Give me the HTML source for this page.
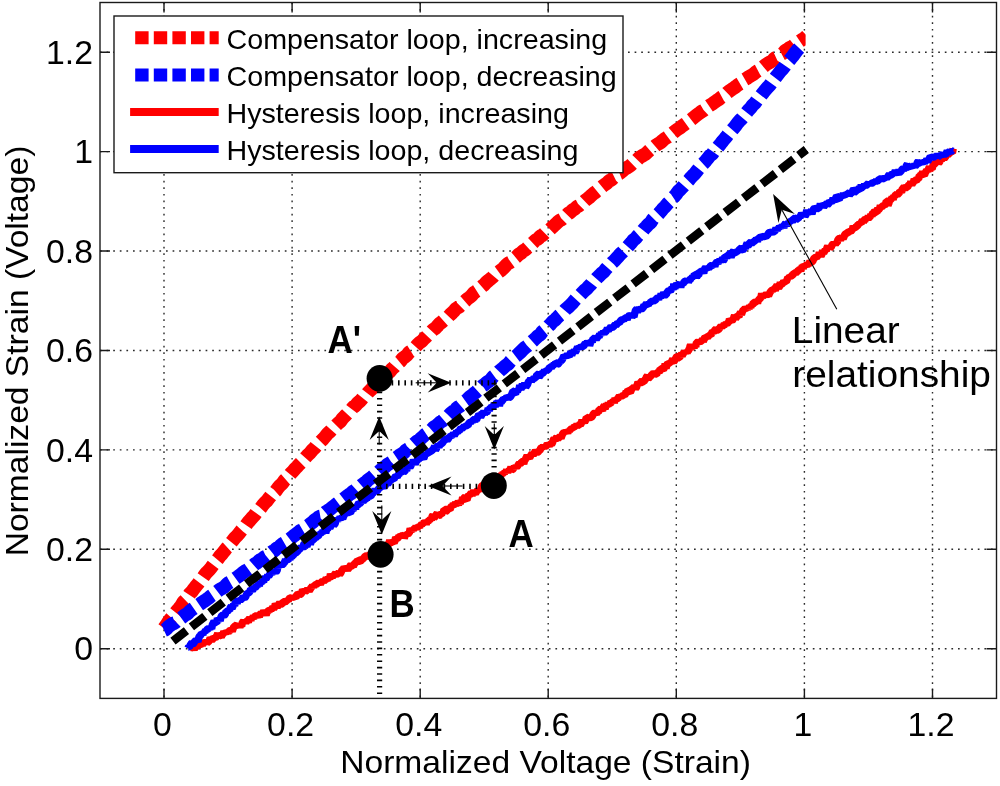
<!DOCTYPE html>
<html lang="en"><head><meta charset="utf-8"><title>Hysteresis and compensator loops</title>
<style>html,body{margin:0;padding:0;background:#fff}svg{display:block}text{font-family:"Liberation Sans",sans-serif;fill:#000}</style></head><body>
<svg width="1000" height="786" viewBox="0 0 1000 786">
<rect width="1000" height="786" fill="#fff"/>
<path d="M164.0,2.5 V698.4 M292.1,2.5 V698.4 M420.2,2.5 V698.4 M548.2,2.5 V698.4 M676.3,2.5 V698.4 M804.4,2.5 V698.4 M932.5,2.5 V698.4 M100.0,648.7 H996.5 M100.0,549.3 H996.5 M100.0,449.9 H996.5 M100.0,350.5 H996.5 M100.0,251.0 H996.5 M100.0,151.6 H996.5 M100.0,52.2 H996.5" fill="none" stroke="#2a2a2a" stroke-width="1.4" stroke-dasharray="1.7 4.9"/>
<clipPath id="c"><rect x="100.0" y="2.5" width="896.5" height="695.9"/></clipPath>
<g clip-path="url(#c)" fill="none" stroke-linejoin="bevel">
<clipPath id="c2"><rect x="100.0" y="2.5" width="705.6" height="695.9"/></clipPath>
<path clip-path="url(#c2)" d="M164.0,628.3 L166.2,625.2 L168.3,621.8 L170.5,618.9 L172.6,616.5 L174.8,613.6 L176.9,610.9 L179.1,608.3 L181.2,605.7 L183.4,601.9 L185.5,599.9 L187.7,596.8 L189.8,593.6 L192.0,591.5 L194.1,588.6 L196.3,585.8 L198.4,583.2 L200.6,580.3 L202.7,577.8 L204.9,574.7 L207.0,572.2 L209.2,570.0 L211.3,567.4 L213.5,564.5 L215.6,561.8 L217.8,559.2 L219.9,556.1 L222.1,553.9 L224.2,551.2 L226.4,548.4 L228.5,546.5 L230.7,543.1 L232.8,540.5 L235.0,537.7 L237.1,535.8 L239.3,533.1 L241.4,530.3 L243.6,528.0 L245.7,525.7 L247.9,522.5 L250.0,520.3 L252.2,517.6 L254.3,515.5 L256.5,512.4 L258.6,510.3 L260.8,507.9 L262.9,505.0 L265.1,502.5 L267.2,500.6 L269.4,497.6 L271.5,494.9 L273.7,492.9 L275.8,491.0 L278.0,487.9 L280.1,485.4 L282.3,483.6 L284.4,480.4 L286.6,478.5 L288.7,476.1 L290.9,473.4 L293.0,471.3 L295.2,468.6 L297.3,466.6 L299.5,464.1 L301.7,461.9 L303.8,459.5 L306.0,457.0 L308.1,454.7 L310.3,452.7 L312.4,450.0 L314.6,448.0 L316.7,445.3 L318.9,443.2 L321.0,441.1 L323.2,439.0 L325.3,436.5 L327.5,433.8 L329.6,431.9 L331.8,429.4 L333.9,427.5 L336.1,425.3 L338.2,423.2 L340.4,421.4 L342.5,418.5 L344.7,416.3 L346.8,414.1 L349.0,411.7 L351.1,410.0 L353.3,407.0 L355.4,405.8 L357.6,403.1 L359.7,401.4 L361.9,398.9 L364.0,396.3 L366.2,395.0 L368.3,392.3 L370.5,390.2 L372.6,388.0 L374.8,385.9 L376.9,383.6 L379.1,381.6 L381.2,379.5 L383.4,377.2 L385.5,375.2 L387.7,373.3 L389.8,371.6 L392.0,368.9 L394.1,367.1 L396.3,364.5 L398.4,363.0 L400.6,361.2 L402.7,358.4 L404.9,356.9 L407.0,355.1 L409.2,352.3 L411.3,351.0 L413.5,348.1 L415.6,346.8 L417.8,344.4 L419.9,342.4 L422.1,341.0 L424.2,338.5 L426.4,336.6 L428.5,334.4 L430.7,332.3 L432.8,330.0 L435.0,328.6 L437.1,326.5 L439.3,323.9 L441.4,322.4 L443.6,320.4 L445.7,319.1 L447.9,317.1 L450.0,314.9 L452.2,312.9 L454.3,310.7 L456.5,308.1 L458.6,307.4 L460.8,305.2 L462.9,303.0 L465.1,301.1 L467.2,299.0 L469.4,297.5 L471.5,295.8 L473.7,293.0 L475.8,291.6 L478.0,290.2 L480.1,288.0 L482.3,286.1 L484.4,284.6 L486.6,282.1 L488.7,280.4 L490.9,278.7 L493.0,276.9 L495.2,274.3 L497.3,273.0 L499.5,271.4 L501.6,269.9 L503.8,267.8 L505.9,265.4 L508.1,263.3 L510.2,262.3 L512.4,260.7 L514.5,258.3 L516.7,256.5 L518.8,254.4 L521.0,253.1 L523.1,251.0 L525.3,249.8 L527.4,247.8 L529.6,245.8 L531.7,244.0 L533.9,241.9 L536.0,239.9 L538.2,238.9 L540.3,236.2 L542.5,235.2 L544.6,233.3 L546.8,231.1 L548.9,230.4 L551.1,228.3 L553.2,226.4 L555.4,224.3 L557.5,222.3 L559.7,220.5 L561.8,219.4 L564.0,217.2 L566.1,215.8 L568.3,213.5 L570.4,212.3 L572.6,210.1 L574.7,209.0 L576.9,206.8 L579.0,205.7 L581.2,203.5 L583.3,202.3 L585.5,200.2 L587.6,198.7 L589.8,197.0 L591.9,194.9 L594.1,193.1 L596.2,191.6 L598.4,189.8 L600.5,188.0 L602.7,186.2 L604.8,184.6 L607.0,183.1 L609.1,180.9 L611.3,180.0 L613.4,177.9 L615.6,176.8 L617.7,174.1 L619.9,173.2 L622.0,171.4 L624.2,169.4 L626.3,168.2 L628.5,166.8 L630.6,165.4 L632.8,163.3 L634.9,160.9 L637.1,159.9 L639.2,157.7 L641.4,156.4 L643.5,155.1 L645.7,153.8 L647.8,151.8 L650.0,149.9 L652.1,148.5 L654.3,146.8 L656.4,145.0 L658.6,143.7 L660.7,142.4 L662.9,140.4 L665.0,138.6 L667.2,137.4 L669.3,135.8 L671.5,134.2 L673.6,132.4 L675.8,130.7 L677.9,129.1 L680.1,127.9 L682.2,125.9 L684.4,124.5 L686.5,123.0 L688.7,121.7 L690.8,119.8 L693.0,118.1 L695.1,116.3 L697.3,114.6 L699.4,113.2 L701.6,111.5 L703.7,110.3 L705.9,108.2 L708.0,106.6 L710.2,105.1 L712.3,103.9 L714.5,102.2 L716.6,100.7 L718.8,99.4 L720.9,97.5 L723.1,96.3 L725.2,94.8 L727.4,92.6 L729.5,91.0 L731.7,89.4 L733.8,88.2 L736.0,86.5 L738.1,84.8 L740.3,83.5 L742.4,82.5 L744.6,79.6 L746.7,78.4 L748.9,76.8 L751.0,75.6 L753.2,74.4 L755.3,72.6 L757.5,71.0 L759.6,69.9 L761.8,68.1 L763.9,66.3 L766.1,64.5 L768.3,63.2 L770.4,62.0 L772.6,60.7 L774.7,58.2 L776.9,57.2 L779.0,55.5 L781.2,54.2 L783.3,53.1 L785.5,50.5 L787.6,49.4 L789.8,47.7 L791.9,46.8 L794.1,45.1 L796.2,43.1 L798.4,42.1 L800.5,40.7 L802.7,39.3 L804.8,37.9 L807.0,35.7" stroke="#ff0000" stroke-width="13.6" stroke-dasharray="15.8 6.7" stroke-dashoffset="2.9"/>
<path d="M164.0,630.3 L166.2,629.3 L168.3,626.7 L170.4,625.2 L172.5,623.7 L174.7,623.0 L176.8,620.9 L178.9,619.0 L181.0,618.1 L183.2,616.5 L185.3,614.8 L187.4,613.8 L189.5,611.6 L191.7,609.8 L193.8,608.3 L195.9,606.5 L198.0,605.4 L200.2,603.9 L202.3,602.4 L204.4,601.0 L206.5,599.6 L208.7,598.0 L210.8,596.2 L212.9,594.8 L215.0,593.1 L217.1,591.6 L219.3,589.9 L221.4,588.7 L223.5,587.6 L225.6,585.7 L227.8,583.3 L229.9,582.2 L232.0,581.0 L234.1,579.4 L236.3,577.8 L238.4,576.4 L240.5,574.7 L242.6,573.0 L244.8,571.3 L246.9,570.2 L249.0,568.7 L251.1,567.1 L253.3,565.5 L255.4,563.6 L257.5,562.6 L259.6,560.2 L261.8,559.2 L263.9,557.5 L266.0,556.5 L268.1,554.8 L270.3,553.3 L272.4,551.6 L274.5,550.7 L276.6,548.4 L278.8,547.5 L280.9,545.3 L283.0,543.6 L285.1,542.4 L287.3,540.8 L289.4,539.3 L291.5,537.7 L293.6,536.0 L295.8,534.3 L297.9,532.8 L300.0,531.0 L302.1,529.8 L304.3,528.5 L306.4,526.9 L308.5,525.5 L310.6,523.7 L312.8,522.2 L314.9,519.9 L317.0,518.7 L319.1,516.7 L321.3,516.3 L323.4,514.0 L325.5,512.2 L327.6,510.8 L329.7,509.5 L331.9,507.7 L334.0,506.1 L336.1,504.5 L338.2,502.9 L340.4,501.1 L342.5,499.7 L344.6,498.1 L346.7,496.5 L348.9,494.8 L351.0,493.5 L353.1,491.5 L355.2,490.2 L357.4,488.2 L359.5,487.0 L361.6,485.2 L363.7,483.6 L365.9,482.2 L368.0,480.0 L370.1,478.5 L372.2,477.0 L374.4,475.0 L376.5,473.8 L378.6,472.0 L380.7,470.0 L382.9,468.0 L385.0,467.0 L387.1,464.9 L389.2,463.6 L391.4,462.2 L393.5,460.2 L395.6,458.3 L397.7,456.9 L399.9,455.1 L402.0,453.9 L404.1,452.5 L406.2,450.1 L408.4,448.9 L410.5,446.8 L412.6,445.2 L414.7,443.3 L416.9,441.4 L419.0,440.4 L421.1,438.2 L423.2,436.5 L425.4,434.3 L427.5,432.9 L429.6,431.4 L431.7,429.6 L433.9,427.2 L436.0,426.2 L438.1,424.2 L440.2,422.3 L442.3,421.0 L444.5,419.1 L446.6,417.7 L448.7,415.6 L450.8,413.3 L453.0,411.6 L455.1,410.5 L457.2,407.7 L459.3,406.7 L461.5,404.8 L463.6,402.2 L465.7,400.7 L467.8,399.0 L470.0,396.7 L472.1,395.4 L474.2,393.4 L476.3,391.8 L478.5,389.8 L480.6,388.0 L482.7,385.7 L484.8,384.4 L487.0,382.4 L489.1,381.1 L491.2,379.1 L493.3,376.5 L495.5,374.9 L497.6,373.0 L499.7,370.8 L501.8,369.2 L504.0,367.2 L506.1,365.4 L508.2,364.0 L510.3,361.3 L512.5,359.1 L514.6,357.2 L516.7,355.6 L518.8,353.6 L521.0,351.6 L523.1,349.3 L525.2,347.5 L527.3,346.0 L529.5,343.9 L531.6,342.0 L533.7,340.1 L535.8,338.1 L538.0,336.0 L540.1,334.7 L542.2,331.8 L544.3,330.1 L546.5,328.3 L548.6,326.0 L550.7,324.1 L552.8,321.5 L554.9,320.1 L557.1,317.7 L559.2,315.6 L561.3,313.9 L563.4,312.0 L565.6,309.4 L567.7,307.6 L569.8,305.7 L571.9,303.7 L574.1,301.0 L576.2,298.7 L578.3,297.2 L580.4,294.8 L582.6,292.5 L584.7,290.4 L586.8,288.7 L588.9,286.3 L591.1,284.1 L593.2,281.4 L595.3,280.0 L597.4,277.6 L599.6,275.5 L601.7,273.4 L603.8,271.7 L605.9,269.1 L608.1,266.6 L610.2,265.0 L612.3,262.6 L614.4,260.7 L616.6,258.2 L618.7,256.0 L620.8,253.6 L622.9,251.7 L625.1,249.5 L627.2,247.3 L629.3,244.9 L631.4,242.6 L633.6,239.8 L635.7,238.4 L637.8,235.7 L639.9,233.8 L642.1,231.5 L644.2,228.8 L646.3,226.7 L648.4,224.4 L650.6,222.7 L652.7,219.2 L654.8,217.1 L656.9,215.6 L659.1,213.4 L661.2,210.9 L663.3,208.3 L665.4,206.3 L667.5,203.7 L669.7,201.6 L671.8,198.2 L673.9,196.8 L676.0,194.5 L678.2,191.4 L680.3,189.5 L682.4,187.2 L684.5,184.8 L686.7,182.3 L688.8,180.2 L690.9,177.6 L693.0,175.4 L695.2,173.2 L697.3,170.5 L699.4,167.9 L701.5,165.1 L703.7,163.1 L705.8,160.8 L707.9,158.2 L710.0,155.6 L712.2,154.0 L714.3,151.0 L716.4,149.0 L718.5,146.4 L720.7,143.7 L722.8,141.0 L724.9,138.5 L727.0,135.9 L729.2,133.1 L731.3,130.8 L733.4,128.4 L735.5,126.0 L737.7,122.9 L739.8,120.5 L741.9,118.5 L744.0,116.0 L746.2,113.1 L748.3,110.4 L750.4,108.3 L752.5,105.3 L754.7,103.4 L756.8,100.5 L758.9,97.6 L761.0,95.5 L763.2,92.7 L765.3,90.1 L767.4,87.6 L769.5,85.5 L771.7,82.4 L773.8,79.7 L775.9,77.0 L778.0,74.3 L780.1,71.6 L782.3,69.3 L784.4,66.6 L786.5,63.5 L788.6,61.0 L790.8,58.6 L792.9,56.0 L795.0,53.0 L797.1,50.3 L799.3,48.0" stroke="#0000ff" stroke-width="13.6" stroke-dasharray="15.8 6.7" stroke-dashoffset="0.9"/>
<path d="M191.6,646.5 L192.4,647.7 L193.3,647.8 L194.1,649.8 L195.0,647.4 L195.8,647.1 L196.7,646.3 L197.5,646.6 L198.3,645.5 L199.2,645.6 L200.0,646.2 L200.9,643.1 L201.7,642.7 L202.6,641.2 L203.4,642.9 L204.3,643.0 L205.1,642.8 L206.0,643.6 L206.8,640.0 L207.7,642.2 L208.5,641.9 L209.4,640.3 L210.2,637.8 L211.1,638.9 L211.9,640.0 L212.8,639.2 L213.6,637.2 L214.4,637.7 L215.3,638.1 L216.1,637.0 L217.0,635.3 L217.8,633.4 L218.7,637.0 L219.5,635.8 L220.4,635.6 L221.2,637.2 L222.1,634.9 L222.9,634.6 L223.8,631.5 L224.6,632.6 L225.5,634.1 L226.3,630.8 L227.2,631.7 L228.0,633.0 L228.8,631.1 L229.7,630.7 L230.5,630.6 L231.4,629.1 L232.2,631.5 L233.1,628.6 L233.9,626.6 L234.8,626.3 L235.6,625.6 L236.5,625.2 L237.3,624.3 L238.2,627.1 L239.0,624.2 L239.9,627.2 L240.7,625.2 L241.6,626.4 L242.4,622.3 L243.3,621.5 L244.1,622.9 L244.9,620.1 L245.8,622.7 L246.6,621.2 L247.5,620.8 L248.3,621.9 L249.2,619.6 L250.0,617.3 L250.9,620.5 L251.7,617.7 L252.6,618.6 L253.4,615.8 L254.3,616.9 L255.1,616.2 L256.0,615.9 L256.8,615.9 L257.7,617.5 L258.5,613.6 L259.3,616.6 L260.2,614.2 L261.0,613.3 L261.9,614.6 L262.7,613.0 L263.6,611.3 L264.4,612.3 L265.3,613.0 L266.1,615.0 L267.0,612.2 L267.8,611.3 L268.7,610.7 L269.5,610.9 L270.4,608.8 L271.2,609.5 L272.1,608.5 L272.9,607.1 L273.8,608.5 L274.6,607.4 L275.4,603.9 L276.3,605.1 L277.1,607.3 L278.0,605.4 L278.8,604.1 L279.7,602.8 L280.5,603.7 L281.4,604.1 L282.2,603.9 L283.1,601.8 L283.9,601.8 L284.8,602.3 L285.6,601.5 L286.5,601.3 L287.3,599.5 L288.2,600.8 L289.0,598.9 L289.8,598.0 L290.7,598.0 L291.5,599.2 L292.4,596.0 L293.2,598.1 L294.1,596.2 L294.9,597.3 L295.8,598.0 L296.6,595.1 L297.5,594.6 L298.3,594.6 L299.2,593.7 L300.0,594.4 L300.9,594.1 L301.7,592.9 L302.6,589.9 L303.4,590.8 L304.2,592.0 L305.1,590.2 L305.9,591.0 L306.8,590.6 L307.6,588.5 L308.5,589.7 L309.3,590.7 L310.2,589.3 L311.0,587.6 L311.9,587.1 L312.7,585.3 L313.6,587.2 L314.4,585.0 L315.3,584.9 L316.1,585.2 L317.0,583.5 L317.8,583.4 L318.7,584.7 L319.5,581.8 L320.3,584.2 L321.2,582.1 L322.0,581.7 L322.9,580.8 L323.7,581.7 L324.6,580.4 L325.4,580.1 L326.3,578.2 L327.1,580.0 L328.0,578.4 L328.8,578.4 L329.7,579.2 L330.5,573.8 L331.4,576.7 L332.2,578.0 L333.1,574.0 L333.9,576.6 L334.7,574.3 L335.6,573.3 L336.4,574.7 L337.3,573.9 L338.1,573.6 L339.0,572.6 L339.8,574.0 L340.7,573.1 L341.5,571.2 L342.4,569.3 L343.2,569.3 L344.1,567.5 L344.9,568.3 L345.8,569.3 L346.6,568.4 L347.5,570.3 L348.3,568.5 L349.2,568.1 L350.0,566.0 L350.8,565.1 L351.7,566.1 L352.5,565.6 L353.4,566.4 L354.2,564.1 L355.1,563.2 L355.9,562.5 L356.8,563.5 L357.6,559.6 L358.5,560.1 L359.3,561.2 L360.2,561.3 L361.0,560.6 L361.9,559.5 L362.7,559.2 L363.6,558.1 L364.4,557.3 L365.2,556.1 L366.1,555.9 L366.9,556.9 L367.8,555.8 L368.6,556.3 L369.5,556.1 L370.3,552.5 L371.2,555.0 L372.0,551.4 L372.9,553.9 L373.7,552.6 L374.6,551.1 L375.4,552.0 L376.3,551.0 L377.1,551.3 L378.0,551.1 L378.8,550.2 L379.7,550.4 L380.5,547.0 L381.3,548.8 L382.2,546.0 L383.0,550.9 L383.9,547.1 L384.7,545.9 L385.6,546.5 L386.4,544.3 L387.3,544.4 L388.1,545.0 L389.0,543.6 L389.8,540.2 L390.7,542.9 L391.5,542.3 L392.4,542.7 L393.2,541.5 L394.1,542.8 L394.9,541.0 L395.7,537.2 L396.6,538.4 L397.4,538.4 L398.3,537.4 L399.1,535.9 L400.0,537.0 L400.8,534.7 L401.7,535.4 L402.5,536.0 L403.4,533.6 L404.2,538.2 L405.1,535.5 L405.9,533.9 L406.8,534.9 L407.6,533.4 L408.5,533.5 L409.3,533.1 L410.2,528.4 L411.0,530.5 L411.8,530.8 L412.7,528.6 L413.5,530.0 L414.4,528.1 L415.2,528.3 L416.1,526.2 L416.9,529.5 L417.8,526.3 L418.6,526.5 L419.5,527.6 L420.3,524.4 L421.2,526.3 L422.0,522.7 L422.9,523.5 L423.7,522.8 L424.6,523.0 L425.4,521.5 L426.2,524.4 L427.1,521.5 L427.9,521.9 L428.8,520.2 L429.6,520.1 L430.5,518.8 L431.3,520.1 L432.2,516.2 L433.0,515.1 L433.9,517.8 L434.7,517.0 L435.6,516.1 L436.4,514.4 L437.3,513.1 L438.1,516.4 L439.0,515.2 L439.8,515.2 L440.7,514.7 L441.5,514.9 L442.3,511.9 L443.2,513.2 L444.0,509.4 L444.9,509.6 L445.7,511.5 L446.6,511.0 L447.4,510.0 L448.3,506.9 L449.1,509.2 L450.0,509.5 L450.8,507.2 L451.7,506.1 L452.5,506.9 L453.4,503.5 L454.2,504.7 L455.1,503.9 L455.9,505.0 L456.7,503.5 L457.6,503.1 L458.4,505.2 L459.3,501.5 L460.1,503.5 L461.0,500.8 L461.8,502.1 L462.7,497.2 L463.5,498.8 L464.4,497.6 L465.2,497.0 L466.1,499.3 L466.9,499.9 L467.8,496.9 L468.6,494.9 L469.5,495.4 L470.3,494.0 L471.2,493.2 L472.0,495.7 L472.8,493.0 L473.7,490.4 L474.5,493.0 L475.4,494.3 L476.2,491.5 L477.1,491.2 L477.9,489.6 L478.8,490.7 L479.6,488.9 L480.5,491.3 L481.3,486.9 L482.2,485.5 L483.0,485.3 L483.9,488.2 L484.7,485.4 L485.6,489.0 L486.4,484.4 L487.2,484.3 L488.1,484.9 L488.9,482.7 L489.8,482.4 L490.6,480.9 L491.5,481.3 L492.3,480.6 L493.2,482.8 L494.0,481.3 L494.9,479.9 L495.7,478.4 L496.6,478.2 L497.4,475.8 L498.3,478.2 L499.1,476.9 L500.0,475.7 L500.8,475.8 L501.6,474.3 L502.5,475.1 L503.3,472.1 L504.2,473.7 L505.0,471.4 L505.9,472.2 L506.7,469.8 L507.6,472.8 L508.4,469.9 L509.3,470.5 L510.1,469.2 L511.0,467.4 L511.8,469.8 L512.7,469.4 L513.5,468.5 L514.4,466.4 L515.2,468.5 L516.1,465.5 L516.9,466.6 L517.7,465.9 L518.6,464.4 L519.4,462.9 L520.3,463.6 L521.1,462.9 L522.0,461.8 L522.8,461.5 L523.7,463.9 L524.5,460.6 L525.4,459.4 L526.2,457.6 L527.1,455.8 L527.9,457.0 L528.8,457.2 L529.6,457.9 L530.5,456.1 L531.3,454.6 L532.1,453.5 L533.0,455.6 L533.8,453.7 L534.7,452.4 L535.5,450.5 L536.4,452.0 L537.2,452.4 L538.1,452.0 L538.9,451.1 L539.8,450.9 L540.6,448.5 L541.5,447.6 L542.3,447.5 L543.2,446.4 L544.0,447.8 L544.9,446.2 L545.7,446.6 L546.6,445.6 L547.4,443.5 L548.2,444.5 L549.1,446.3 L549.9,443.7 L550.8,443.7 L551.6,444.1 L552.5,442.7 L553.3,439.9 L554.2,438.5 L555.0,440.6 L555.9,438.2 L556.7,437.4 L557.6,439.8 L558.4,437.8 L559.3,437.3 L560.1,436.5 L561.0,438.1 L561.8,436.0 L562.6,433.7 L563.5,432.9 L564.3,431.6 L565.2,433.7 L566.0,430.4 L566.9,431.4 L567.7,433.3 L568.6,430.1 L569.4,430.9 L570.3,429.3 L571.1,429.5 L572.0,427.3 L572.8,427.9 L573.7,428.1 L574.5,425.9 L575.4,426.3 L576.2,426.5 L577.1,423.9 L577.9,425.4 L578.7,425.1 L579.6,424.4 L580.4,425.0 L581.3,423.3 L582.1,419.8 L583.0,422.6 L583.8,420.9 L584.7,421.8 L585.5,420.6 L586.4,417.4 L587.2,417.6 L588.1,418.9 L588.9,417.6 L589.8,418.0 L590.6,417.4 L591.5,417.0 L592.3,416.4 L593.1,414.3 L594.0,413.4 L594.8,413.0 L595.7,413.3 L596.5,414.2 L597.4,412.0 L598.2,412.5 L599.1,409.7 L599.9,409.5 L600.8,408.7 L601.6,409.5 L602.5,410.8 L603.3,406.8 L604.2,405.9 L605.0,408.7 L605.9,406.1 L606.7,404.2 L607.6,406.5 L608.4,402.4 L609.2,404.5 L610.1,404.8 L610.9,401.2 L611.8,402.0 L612.6,402.6 L613.5,400.1 L614.3,403.1 L615.2,397.8 L616.0,400.5 L616.9,398.6 L617.7,398.9 L618.6,397.2 L619.4,396.1 L620.3,397.7 L621.1,395.1 L622.0,395.9 L622.8,395.8 L623.6,394.7 L624.5,395.1 L625.3,394.2 L626.2,391.5 L627.0,392.3 L627.9,390.1 L628.7,390.4 L629.6,391.7 L630.4,392.2 L631.3,390.1 L632.1,388.3 L633.0,388.1 L633.8,388.6 L634.7,385.7 L635.5,388.5 L636.4,387.4 L637.2,385.1 L638.1,381.9 L638.9,383.6 L639.7,384.8 L640.6,382.2 L641.4,381.5 L642.3,380.6 L643.1,381.7 L644.0,381.6 L644.8,379.9 L645.7,379.0 L646.5,376.9 L647.4,375.7 L648.2,378.7 L649.1,377.8 L649.9,376.7 L650.8,376.3 L651.6,374.8 L652.5,374.3 L653.3,374.0 L654.1,372.0 L655.0,373.3 L655.8,373.9 L656.7,373.9 L657.5,372.7 L658.4,372.1 L659.2,372.6 L660.1,368.8 L660.9,368.9 L661.8,369.0 L662.6,369.0 L663.5,369.3 L664.3,367.9 L665.2,363.9 L666.0,368.4 L666.9,364.8 L667.7,363.5 L668.5,363.7 L669.4,363.7 L670.2,361.7 L671.1,363.5 L671.9,360.8 L672.8,359.2 L673.6,361.7 L674.5,360.8 L675.3,359.0 L676.2,357.4 L677.0,356.4 L677.9,356.6 L678.7,357.7 L679.6,357.7 L680.4,355.4 L681.3,354.6 L682.1,355.9 L683.0,353.9 L683.8,352.9 L684.6,351.5 L685.5,353.4 L686.3,350.9 L687.2,352.5 L688.0,350.9 L688.9,349.9 L689.7,347.4 L690.6,344.5 L691.4,347.8 L692.3,346.9 L693.1,345.6 L694.0,348.0 L694.8,344.8 L695.7,346.7 L696.5,342.5 L697.4,342.2 L698.2,342.7 L699.0,343.8 L699.9,340.1 L700.7,341.3 L701.6,340.9 L702.4,339.7 L703.3,341.9 L704.1,338.7 L705.0,337.4 L705.8,337.6 L706.7,337.2 L707.5,338.0 L708.4,335.4 L709.2,335.4 L710.1,335.0 L710.9,335.2 L711.8,332.8 L712.6,331.7 L713.5,332.2 L714.3,330.9 L715.1,329.8 L716.0,328.9 L716.8,330.0 L717.7,329.9 L718.5,329.6 L719.4,328.5 L720.2,327.2 L721.1,326.1 L721.9,327.2 L722.8,325.9 L723.6,326.7 L724.5,323.3 L725.3,324.7 L726.2,323.2 L727.0,323.9 L727.9,322.8 L728.7,322.7 L729.5,319.1 L730.4,320.2 L731.2,320.2 L732.1,320.6 L732.9,319.6 L733.8,317.5 L734.6,315.5 L735.5,318.8 L736.3,317.5 L737.2,316.0 L738.0,316.0 L738.9,316.6 L739.7,313.9 L740.6,312.4 L741.4,314.7 L742.3,311.9 L743.1,310.3 L744.0,309.7 L744.8,310.8 L745.6,306.8 L746.5,308.4 L747.3,309.5 L748.2,306.6 L749.0,308.6 L749.9,305.5 L750.7,307.6 L751.6,304.4 L752.4,305.5 L753.3,302.8 L754.1,302.6 L755.0,302.4 L755.8,302.3 L756.7,300.4 L757.5,303.3 L758.4,299.9 L759.2,299.3 L760.0,298.5 L760.9,297.6 L761.7,293.4 L762.6,297.2 L763.4,295.8 L764.3,296.0 L765.1,293.6 L766.0,297.4 L766.8,292.2 L767.7,294.5 L768.5,295.8 L769.4,293.8 L770.2,292.0 L771.1,290.9 L771.9,290.6 L772.8,288.9 L773.6,289.3 L774.5,288.7 L775.3,290.7 L776.1,286.8 L777.0,285.5 L777.8,286.7 L778.7,287.9 L779.5,286.6 L780.4,282.2 L781.2,284.4 L782.1,283.8 L782.9,283.4 L783.8,280.9 L784.6,281.8 L785.5,281.6 L786.3,281.7 L787.2,279.3 L788.0,277.3 L788.9,278.1 L789.7,276.2 L790.5,276.5 L791.4,275.9 L792.2,275.2 L793.1,274.7 L793.9,272.9 L794.8,272.9 L795.6,273.6 L796.5,272.1 L797.3,271.7 L798.2,270.3 L799.0,270.1 L799.9,269.1 L800.7,270.9 L801.6,267.9 L802.4,266.1 L803.3,268.8 L804.1,264.5 L805.0,265.4 L805.8,265.4 L806.6,266.8 L807.5,262.5 L808.3,264.5 L809.2,263.2 L810.0,261.3 L810.9,262.6 L811.7,261.9 L812.6,261.5 L813.4,259.5 L814.3,258.0 L815.1,257.6 L816.0,256.9 L816.8,257.2 L817.7,256.0 L818.5,256.4 L819.4,252.4 L820.2,254.0 L821.0,256.0 L821.9,254.3 L822.7,250.3 L823.6,253.3 L824.4,251.5 L825.3,249.8 L826.1,251.0 L827.0,247.7 L827.8,246.3 L828.7,248.8 L829.5,245.7 L830.4,247.5 L831.2,247.0 L832.1,244.8 L832.9,244.2 L833.8,244.6 L834.6,242.1 L835.4,244.4 L836.3,242.9 L837.1,242.6 L838.0,239.6 L838.8,238.9 L839.7,238.4 L840.5,240.2 L841.4,237.8 L842.2,236.7 L843.1,238.7 L843.9,237.0 L844.8,234.5 L845.6,233.8 L846.5,233.7 L847.3,232.7 L848.2,232.3 L849.0,231.9 L849.9,231.5 L850.7,231.8 L851.5,230.4 L852.4,229.9 L853.2,225.9 L854.1,227.8 L854.9,227.5 L855.8,227.1 L856.6,226.3 L857.5,225.8 L858.3,224.1 L859.2,224.2 L860.0,222.5 L860.9,223.7 L861.7,221.7 L862.6,220.4 L863.4,222.3 L864.3,220.0 L865.1,219.2 L865.9,219.3 L866.8,218.8 L867.6,219.8 L868.5,215.4 L869.3,217.4 L870.2,217.1 L871.0,214.1 L871.9,216.5 L872.7,212.4 L873.6,212.4 L874.4,211.5 L875.3,211.8 L876.1,212.4 L877.0,212.6 L877.8,207.8 L878.7,209.5 L879.5,208.9 L880.4,205.6 L881.2,207.7 L882.0,206.5 L882.9,205.9 L883.7,205.1 L884.6,205.5 L885.4,204.3 L886.3,201.3 L887.1,201.3 L888.0,205.3 L888.8,203.4 L889.7,199.8 L890.5,199.7 L891.4,199.4 L892.2,197.0 L893.1,199.8 L893.9,195.4 L894.8,196.1 L895.6,194.9 L896.4,194.6 L897.3,193.2 L898.1,193.9 L899.0,193.6 L899.8,191.3 L900.7,191.4 L901.5,192.5 L902.4,188.6 L903.2,188.1 L904.1,187.1 L904.9,188.1 L905.8,187.1 L906.6,187.4 L907.5,187.4 L908.3,185.5 L909.2,184.7 L910.0,185.1 L910.9,181.3 L911.7,184.9 L912.5,183.2 L913.4,182.4 L914.2,179.3 L915.1,180.5 L915.9,180.0 L916.8,180.0 L917.6,179.2 L918.5,179.2 L919.3,175.6 L920.2,175.5 L921.0,174.3 L921.9,175.7 L922.7,171.1 L923.6,174.8 L924.4,175.4 L925.3,172.6 L926.1,171.4 L926.9,169.9 L927.8,171.5 L928.6,168.8 L929.5,166.8 L930.3,169.3 L931.2,168.5 L932.0,169.0 L932.9,165.9 L933.7,164.5 L934.6,163.9 L935.4,163.2 L936.3,161.8 L937.1,162.7 L938.0,161.0 L938.8,162.7 L939.7,161.9 L940.5,159.9 L941.4,160.6 L942.2,158.2 L943.0,156.5 L943.9,157.1 L944.7,157.8 L945.6,157.2 L946.4,153.9 L947.3,155.9 L948.1,154.1 L949.0,153.9 L949.8,152.9 L950.7,150.9 L951.5,152.3 L952.4,152.7 L953.2,148.5" stroke="#ff0000" stroke-width="7.5"/>
<path d="M187.7,648.4 L188.6,646.9 L189.4,647.0 L190.3,645.2 L191.1,643.8 L192.0,642.8 L192.8,644.0 L193.7,643.3 L194.5,641.6 L195.4,641.0 L196.2,639.7 L197.1,640.5 L197.9,641.7 L198.8,637.4 L199.6,636.2 L200.5,635.5 L201.4,633.4 L202.2,633.6 L203.1,634.4 L203.9,631.9 L204.8,632.4 L205.6,629.9 L206.5,630.4 L207.3,629.3 L208.2,628.8 L209.0,628.2 L209.9,629.3 L210.7,626.6 L211.6,628.7 L212.4,624.5 L213.3,623.1 L214.1,621.0 L215.0,622.3 L215.8,622.8 L216.7,623.1 L217.5,618.0 L218.4,621.4 L219.2,617.7 L220.1,620.9 L220.9,617.3 L221.8,615.6 L222.6,615.3 L223.5,615.0 L224.3,615.2 L225.2,614.5 L226.0,611.4 L226.9,611.3 L227.7,611.3 L228.6,610.1 L229.5,610.7 L230.3,607.5 L231.2,606.4 L232.0,608.2 L232.9,606.4 L233.7,604.4 L234.6,605.8 L235.4,601.7 L236.3,601.6 L237.1,603.1 L238.0,600.7 L238.8,599.1 L239.7,602.0 L240.5,598.9 L241.4,599.1 L242.2,598.5 L243.1,596.6 L243.9,597.3 L244.8,597.7 L245.6,597.0 L246.5,594.5 L247.3,593.0 L248.2,593.0 L249.0,592.5 L249.9,591.6 L250.7,589.2 L251.6,589.4 L252.4,590.3 L253.3,589.0 L254.1,586.4 L255.0,587.9 L255.8,586.9 L256.7,585.7 L257.6,586.3 L258.4,583.1 L259.3,586.2 L260.1,581.0 L261.0,582.6 L261.8,582.9 L262.7,580.2 L263.5,582.0 L264.4,578.5 L265.2,577.5 L266.1,578.4 L266.9,577.5 L267.8,575.1 L268.6,576.4 L269.5,574.8 L270.3,573.7 L271.2,571.5 L272.0,573.3 L272.9,572.0 L273.7,569.9 L274.6,573.8 L275.4,570.2 L276.3,571.5 L277.1,570.7 L278.0,565.3 L278.8,566.8 L279.7,564.5 L280.5,565.9 L281.4,564.3 L282.2,564.8 L283.1,564.2 L283.9,562.9 L284.8,562.0 L285.6,559.5 L286.5,561.0 L287.4,559.6 L288.2,559.7 L289.1,558.5 L289.9,559.6 L290.8,555.9 L291.6,557.2 L292.5,555.8 L293.3,555.5 L294.2,553.3 L295.0,553.2 L295.9,553.1 L296.7,552.2 L297.6,551.3 L298.4,550.1 L299.3,549.8 L300.1,548.1 L301.0,547.0 L301.8,547.6 L302.7,549.3 L303.5,544.8 L304.4,543.6 L305.2,546.1 L306.1,545.4 L306.9,546.8 L307.8,542.6 L308.6,544.1 L309.5,539.9 L310.3,544.6 L311.2,540.8 L312.0,539.3 L312.9,540.0 L313.7,539.8 L314.6,537.8 L315.5,538.1 L316.3,537.2 L317.2,536.2 L318.0,536.2 L318.9,535.1 L319.7,533.2 L320.6,533.9 L321.4,532.6 L322.3,533.1 L323.1,530.3 L324.0,532.4 L324.8,528.9 L325.7,533.2 L326.5,529.9 L327.4,530.1 L328.2,526.2 L329.1,526.5 L329.9,527.8 L330.8,526.2 L331.6,523.2 L332.5,524.2 L333.3,522.8 L334.2,524.7 L335.0,524.1 L335.9,520.8 L336.7,518.0 L337.6,520.9 L338.4,518.8 L339.3,520.1 L340.1,516.7 L341.0,518.2 L341.8,517.5 L342.7,518.7 L343.6,516.2 L344.4,514.8 L345.3,512.6 L346.1,515.2 L347.0,511.8 L347.8,512.8 L348.7,512.1 L349.5,512.3 L350.4,512.6 L351.2,511.3 L352.1,507.1 L352.9,510.0 L353.8,508.4 L354.6,505.8 L355.5,509.2 L356.3,505.4 L357.2,505.9 L358.0,504.4 L358.9,502.9 L359.7,503.5 L360.6,503.0 L361.4,501.2 L362.3,500.6 L363.1,501.7 L364.0,500.4 L364.8,501.2 L365.7,497.2 L366.5,499.7 L367.4,497.3 L368.2,494.8 L369.1,495.3 L369.9,496.0 L370.8,495.9 L371.6,495.1 L372.5,492.6 L373.4,492.7 L374.2,492.4 L375.1,488.6 L375.9,492.2 L376.8,491.1 L377.6,490.4 L378.5,489.0 L379.3,488.2 L380.2,488.3 L381.0,486.4 L381.9,486.0 L382.7,486.4 L383.6,488.5 L384.4,483.8 L385.3,485.4 L386.1,484.4 L387.0,483.1 L387.8,483.8 L388.7,482.7 L389.5,481.0 L390.4,480.9 L391.2,479.4 L392.1,480.3 L392.9,478.8 L393.8,479.3 L394.6,477.7 L395.5,476.3 L396.3,476.4 L397.2,477.2 L398.0,475.0 L398.9,474.0 L399.7,472.1 L400.6,473.0 L401.5,472.8 L402.3,473.1 L403.2,468.6 L404.0,471.6 L404.9,471.2 L405.7,469.3 L406.6,470.8 L407.4,466.6 L408.3,467.1 L409.1,466.0 L410.0,467.2 L410.8,466.0 L411.7,463.7 L412.5,463.0 L413.4,460.0 L414.2,461.5 L415.1,464.6 L415.9,461.6 L416.8,461.5 L417.6,459.1 L418.5,459.9 L419.3,458.6 L420.2,459.0 L421.0,457.2 L421.9,455.5 L422.7,457.5 L423.6,458.6 L424.4,456.7 L425.3,452.9 L426.1,453.9 L427.0,454.0 L427.8,454.2 L428.7,451.1 L429.6,451.4 L430.4,451.3 L431.3,451.2 L432.1,450.1 L433.0,449.7 L433.8,448.0 L434.7,446.5 L435.5,449.9 L436.4,448.6 L437.2,446.3 L438.1,445.5 L438.9,446.9 L439.8,445.1 L440.6,444.3 L441.5,443.7 L442.3,443.1 L443.2,442.0 L444.0,440.2 L444.9,439.8 L445.7,439.4 L446.6,439.1 L447.4,439.8 L448.3,438.9 L449.1,436.8 L450.0,436.9 L450.8,435.4 L451.7,435.5 L452.5,435.1 L453.4,434.1 L454.2,435.9 L455.1,433.6 L455.9,433.5 L456.8,431.1 L457.6,432.4 L458.5,430.7 L459.4,430.9 L460.2,429.2 L461.1,428.3 L461.9,428.8 L462.8,427.8 L463.6,427.1 L464.5,425.8 L465.3,426.6 L466.2,425.5 L467.0,425.5 L467.9,425.5 L468.7,423.5 L469.6,422.6 L470.4,423.5 L471.3,420.0 L472.1,422.3 L473.0,419.8 L473.8,419.7 L474.7,421.7 L475.5,419.0 L476.4,420.3 L477.2,417.9 L478.1,416.3 L478.9,414.3 L479.8,415.0 L480.6,417.3 L481.5,415.2 L482.3,412.3 L483.2,413.3 L484.0,410.8 L484.9,413.3 L485.7,412.5 L486.6,412.9 L487.5,411.1 L488.3,408.4 L489.2,410.6 L490.0,407.8 L490.9,407.6 L491.7,406.6 L492.6,407.3 L493.4,406.4 L494.3,403.2 L495.1,406.8 L496.0,403.7 L496.8,402.2 L497.7,402.9 L498.5,400.8 L499.4,406.0 L500.2,402.1 L501.1,402.6 L501.9,401.0 L502.8,400.1 L503.6,398.7 L504.5,399.8 L505.3,397.1 L506.2,399.5 L507.0,395.8 L507.9,396.7 L508.7,398.0 L509.6,397.4 L510.4,396.9 L511.3,395.3 L512.1,393.3 L513.0,391.3 L513.8,391.3 L514.7,393.4 L515.5,394.0 L516.4,390.9 L517.3,391.8 L518.1,389.6 L519.0,389.7 L519.8,385.1 L520.7,389.8 L521.5,386.7 L522.4,384.2 L523.2,386.4 L524.1,386.3 L524.9,382.7 L525.8,386.8 L526.6,385.8 L527.5,384.6 L528.3,382.0 L529.2,380.9 L530.0,381.5 L530.9,378.0 L531.7,380.4 L532.6,379.6 L533.4,379.4 L534.3,376.9 L535.1,377.8 L536.0,377.7 L536.8,374.6 L537.7,374.5 L538.5,374.3 L539.4,376.5 L540.2,375.7 L541.1,374.1 L541.9,373.5 L542.8,373.2 L543.6,372.3 L544.5,370.7 L545.4,372.2 L546.2,370.0 L547.1,370.2 L547.9,369.8 L548.8,369.0 L549.6,367.1 L550.5,367.1 L551.3,367.9 L552.2,365.9 L553.0,365.6 L553.9,364.6 L554.7,364.9 L555.6,362.8 L556.4,363.0 L557.3,364.3 L558.1,363.9 L559.0,363.5 L559.8,360.7 L560.7,361.5 L561.5,360.5 L562.4,359.5 L563.2,357.4 L564.1,355.6 L564.9,357.9 L565.8,354.7 L566.6,355.9 L567.5,354.5 L568.3,355.8 L569.2,356.5 L570.0,353.8 L570.9,352.2 L571.7,355.2 L572.6,352.8 L573.5,351.8 L574.3,350.8 L575.2,352.4 L576.0,351.1 L576.9,348.7 L577.7,347.1 L578.6,348.6 L579.4,347.0 L580.3,347.4 L581.1,346.5 L582.0,347.0 L582.8,346.3 L583.7,346.1 L584.5,344.7 L585.4,342.9 L586.2,343.5 L587.1,342.4 L587.9,343.4 L588.8,341.2 L589.6,345.5 L590.5,342.7 L591.3,340.8 L592.2,342.1 L593.0,338.6 L593.9,338.5 L594.7,339.3 L595.6,337.5 L596.4,339.0 L597.3,337.7 L598.1,336.5 L599.0,337.5 L599.8,333.6 L600.7,335.2 L601.5,332.5 L602.4,333.4 L603.3,332.3 L604.1,333.3 L605.0,332.0 L605.8,331.6 L606.7,330.2 L607.5,328.2 L608.4,330.1 L609.2,329.1 L610.1,327.9 L610.9,326.7 L611.8,327.4 L612.6,327.2 L613.5,326.9 L614.3,325.6 L615.2,324.7 L616.0,325.3 L616.9,324.3 L617.7,322.5 L618.6,322.9 L619.4,323.0 L620.3,320.9 L621.1,320.3 L622.0,319.9 L622.8,319.3 L623.7,320.1 L624.5,318.8 L625.4,318.1 L626.2,317.8 L627.1,319.6 L627.9,316.9 L628.8,315.9 L629.6,315.2 L630.5,315.7 L631.4,314.7 L632.2,316.5 L633.1,315.5 L633.9,316.8 L634.8,312.9 L635.6,310.0 L636.5,309.4 L637.3,312.4 L638.2,309.6 L639.0,308.4 L639.9,309.8 L640.7,311.3 L641.6,306.6 L642.4,308.2 L643.3,307.7 L644.1,304.6 L645.0,305.6 L645.8,304.6 L646.7,303.1 L647.5,304.8 L648.4,305.3 L649.2,302.5 L650.1,303.0 L650.9,301.5 L651.8,301.4 L652.6,302.3 L653.5,300.8 L654.3,300.7 L655.2,300.1 L656.0,299.3 L656.9,298.3 L657.7,297.9 L658.6,299.3 L659.5,296.4 L660.3,298.4 L661.2,293.3 L662.0,296.5 L662.9,295.1 L663.7,292.8 L664.6,294.2 L665.4,295.0 L666.3,294.7 L667.1,292.1 L668.0,291.4 L668.8,290.3 L669.7,290.5 L670.5,290.9 L671.4,289.2 L672.2,287.5 L673.1,289.8 L673.9,283.8 L674.8,288.3 L675.6,285.7 L676.5,284.4 L677.3,285.1 L678.2,285.3 L679.0,284.3 L679.9,283.0 L680.7,287.4 L681.6,283.0 L682.4,283.6 L683.3,283.5 L684.1,281.9 L685.0,281.3 L685.8,280.4 L686.7,281.3 L687.5,278.6 L688.4,282.1 L689.3,280.2 L690.1,280.0 L691.0,277.9 L691.8,278.1 L692.7,276.4 L693.5,277.5 L694.4,274.4 L695.2,274.6 L696.1,275.6 L696.9,276.6 L697.8,275.5 L698.6,275.4 L699.5,271.4 L700.3,271.5 L701.2,273.6 L702.0,269.1 L702.9,271.3 L703.7,273.3 L704.6,268.6 L705.4,267.8 L706.3,269.0 L707.1,269.6 L708.0,266.4 L708.8,268.1 L709.7,267.0 L710.5,265.9 L711.4,265.6 L712.2,266.0 L713.1,266.3 L713.9,263.5 L714.8,266.7 L715.6,263.1 L716.5,262.6 L717.4,261.8 L718.2,262.5 L719.1,261.2 L719.9,260.0 L720.8,261.8 L721.6,259.9 L722.5,259.0 L723.3,260.6 L724.2,259.7 L725.0,256.1 L725.9,256.3 L726.7,258.0 L727.6,255.7 L728.4,255.6 L729.3,253.8 L730.1,253.7 L731.0,257.6 L731.8,254.5 L732.7,251.9 L733.5,251.1 L734.4,253.4 L735.2,253.7 L736.1,251.4 L736.9,252.0 L737.8,250.8 L738.6,251.7 L739.5,248.8 L740.3,248.6 L741.2,248.2 L742.0,249.7 L742.9,249.9 L743.7,249.0 L744.6,246.3 L745.5,248.6 L746.3,245.1 L747.2,243.2 L748.0,245.8 L748.9,244.7 L749.7,242.8 L750.6,242.4 L751.4,243.8 L752.3,242.8 L753.1,242.0 L754.0,242.0 L754.8,240.5 L755.7,240.3 L756.5,238.6 L757.4,241.9 L758.2,237.8 L759.1,237.8 L759.9,238.5 L760.8,237.4 L761.6,236.2 L762.5,236.6 L763.3,236.8 L764.2,235.7 L765.0,236.4 L765.9,236.7 L766.7,235.7 L767.6,235.1 L768.4,233.4 L769.3,232.2 L770.1,232.4 L771.0,230.5 L771.8,231.9 L772.7,232.2 L773.5,231.8 L774.4,231.6 L775.3,230.4 L776.1,227.8 L777.0,230.9 L777.8,227.9 L778.7,228.2 L779.5,226.7 L780.4,227.8 L781.2,225.9 L782.1,226.9 L782.9,225.1 L783.8,227.8 L784.6,224.3 L785.5,223.6 L786.3,226.0 L787.2,222.5 L788.0,224.6 L788.9,221.5 L789.7,222.2 L790.6,220.9 L791.4,220.9 L792.3,222.4 L793.1,218.5 L794.0,218.5 L794.8,220.8 L795.7,218.4 L796.5,218.1 L797.4,219.1 L798.2,219.1 L799.1,215.7 L799.9,217.4 L800.8,215.3 L801.6,213.6 L802.5,215.0 L803.4,216.2 L804.2,213.5 L805.1,216.0 L805.9,215.0 L806.8,209.8 L807.6,213.9 L808.5,212.1 L809.3,213.4 L810.2,211.8 L811.0,211.0 L811.9,214.1 L812.7,211.2 L813.6,209.1 L814.4,208.4 L815.3,208.7 L816.1,209.9 L817.0,207.8 L817.8,208.4 L818.7,208.4 L819.5,207.0 L820.4,203.7 L821.2,207.3 L822.1,204.4 L822.9,205.0 L823.8,206.7 L824.6,205.6 L825.5,204.3 L826.3,204.2 L827.2,202.9 L828.0,204.1 L828.9,203.7 L829.7,200.7 L830.6,201.6 L831.4,202.2 L832.3,200.8 L833.2,198.1 L834.0,200.7 L834.9,201.4 L835.7,198.0 L836.6,196.3 L837.4,196.8 L838.3,199.5 L839.1,200.1 L840.0,195.5 L840.8,196.9 L841.7,195.7 L842.5,196.1 L843.4,193.4 L844.2,195.0 L845.1,195.1 L845.9,194.1 L846.8,195.4 L847.6,193.3 L848.5,193.2 L849.3,195.4 L850.2,193.8 L851.0,193.5 L851.9,193.5 L852.7,190.7 L853.6,189.4 L854.4,190.0 L855.3,191.9 L856.1,191.8 L857.0,188.3 L857.8,189.2 L858.7,188.6 L859.5,189.7 L860.4,190.2 L861.3,184.6 L862.1,187.7 L863.0,186.8 L863.8,187.6 L864.7,183.9 L865.5,185.9 L866.4,185.2 L867.2,184.6 L868.1,184.3 L868.9,182.1 L869.8,185.8 L870.6,182.4 L871.5,183.6 L872.3,182.9 L873.2,182.8 L874.0,181.1 L874.9,182.9 L875.7,181.6 L876.6,179.9 L877.4,180.9 L878.3,180.4 L879.1,179.0 L880.0,179.0 L880.8,179.1 L881.7,178.3 L882.5,179.1 L883.4,176.5 L884.2,178.6 L885.1,178.9 L885.9,176.0 L886.8,177.8 L887.6,177.0 L888.5,175.7 L889.4,174.2 L890.2,175.3 L891.1,174.9 L891.9,174.5 L892.8,173.2 L893.6,173.9 L894.5,172.6 L895.3,170.9 L896.2,172.5 L897.0,172.3 L897.9,172.7 L898.7,172.1 L899.6,172.4 L900.4,171.8 L901.3,170.8 L902.1,169.3 L903.0,168.8 L903.8,169.6 L904.7,168.3 L905.5,170.0 L906.4,165.5 L907.2,164.6 L908.1,167.5 L908.9,166.4 L909.8,166.5 L910.6,165.3 L911.5,166.7 L912.3,167.5 L913.2,164.3 L914.0,166.3 L914.9,164.2 L915.7,165.4 L916.6,164.9 L917.4,162.4 L918.3,161.3 L919.2,163.1 L920.0,163.1 L920.9,161.9 L921.7,162.6 L922.6,163.7 L923.4,161.3 L924.3,163.7 L925.1,160.1 L926.0,160.9 L926.8,159.7 L927.7,161.4 L928.5,160.2 L929.4,158.3 L930.2,156.9 L931.1,157.3 L931.9,157.5 L932.8,159.0 L933.6,156.6 L934.5,156.9 L935.3,157.1 L936.2,154.8 L937.0,157.0 L937.9,153.6 L938.7,156.2 L939.6,156.0 L940.4,154.9 L941.3,156.1 L942.1,154.8 L943.0,153.8 L943.8,155.7 L944.7,154.3 L945.5,154.7 L946.4,153.2 L947.3,150.9 L948.1,152.5 L949.0,151.9 L949.8,151.1 L950.7,152.5 L951.5,150.5 L952.4,151.1 L953.2,151.0" stroke="#0000ff" stroke-width="7.5"/>
<path d="M168.5,644.6 L806.3,149.5" stroke="#000" stroke-width="8.6" stroke-dasharray="17 6.3" stroke-dashoffset="17.6"/>
</g>
<g fill="none" stroke="#000" stroke-width="5.2" stroke-dasharray="1.6 4.8">
<path d="M379.6,378.8 V698.4"/>
<path d="M391.6,382.8 H496.1"/>
<path d="M494.1,382.8 V486.3"/>
<path d="M379.6,486.3 H494.1"/>
</g>
<path d="M451.2,382.8 L427.7,392.4 L436.7,382.8 L427.7,373.2 Z" fill="#000"/><path d="M436.7,382.8 L415.7,382.8" stroke="#000" stroke-width="1.1" fill="none"/>
<path d="M494.3,449.6 L484.7,426.1 L494.3,435.1 L503.9,426.1 Z" fill="#000"/><path d="M494.3,435.1 L494.3,423.6" stroke="#000" stroke-width="1.1" fill="none"/>
<path d="M428.0,486.0 L451.5,476.4 L442.5,486.0 L451.5,495.6 Z" fill="#000"/><path d="M442.5,486.0 L462.5,486.0" stroke="#000" stroke-width="1.1" fill="none"/>
<path d="M379.2,416.5 L388.8,440.0 L379.2,431.0 L369.6,440.0 Z" fill="#000"/><path d="M379.2,431.0 L379.2,444.5" stroke="#000" stroke-width="1.1" fill="none"/>
<path d="M381.8,534.5 L372.2,511.0 L381.8,520.0 L391.4,511.0 Z" fill="#000"/><path d="M381.8,520.0 L381.8,505.5" stroke="#000" stroke-width="1.1" fill="none"/>
<path d="M773.1,194.0 L794.9,214.0 L781.8,209.8 L778.4,223.1 Z" fill="#000"/><path d="M781.8,209.8 L836.8,309.2" stroke="#000" stroke-width="1.1" fill="none"/>
<ellipse cx="379.6" cy="378.4" rx="13" ry="13.3" fill="#000"/>
<ellipse cx="493.8" cy="485.7" rx="13" ry="13.3" fill="#000"/>
<ellipse cx="380.6" cy="554.4" rx="13" ry="13.3" fill="#000"/>
<rect x="100.0" y="2.5" width="896.5" height="695.9" fill="none" stroke="#1a1a1a" stroke-width="1.4"/>
<path d="M164.0,698.4 v-10 M164.0,2.5 v10 M100.0,648.7 h10 M996.5,648.7 h-10 M292.1,698.4 v-10 M292.1,2.5 v10 M100.0,549.3 h10 M996.5,549.3 h-10 M420.2,698.4 v-10 M420.2,2.5 v10 M100.0,449.9 h10 M996.5,449.9 h-10 M548.2,698.4 v-10 M548.2,2.5 v10 M100.0,350.5 h10 M996.5,350.5 h-10 M676.3,698.4 v-10 M676.3,2.5 v10 M100.0,251.0 h10 M996.5,251.0 h-10 M804.4,698.4 v-10 M804.4,2.5 v10 M100.0,151.6 h10 M996.5,151.6 h-10 M932.5,698.4 v-10 M932.5,2.5 v10 M100.0,52.2 h10 M996.5,52.2 h-10" fill="none" stroke="#1a1a1a" stroke-width="1.4"/>
<text transform="translate(162.5,735.6) scale(1.04,1)" font-size="32.5" text-anchor="middle">0</text>
<text transform="translate(290.6,735.6) scale(1.04,1)" font-size="32.5" text-anchor="middle">0.2</text>
<text transform="translate(418.7,735.6) scale(1.04,1)" font-size="32.5" text-anchor="middle">0.4</text>
<text transform="translate(546.8,735.6) scale(1.04,1)" font-size="32.5" text-anchor="middle">0.6</text>
<text transform="translate(674.8,735.6) scale(1.04,1)" font-size="32.5" text-anchor="middle">0.8</text>
<text transform="translate(802.9,735.6) scale(1.04,1)" font-size="32.5" text-anchor="middle">1</text>
<text transform="translate(931.0,735.6) scale(1.04,1)" font-size="32.5" text-anchor="middle">1.2</text>
<text transform="translate(93.0,660.3) scale(1.04,1)" font-size="32.5" text-anchor="end">0</text>
<text transform="translate(93.0,560.9) scale(1.04,1)" font-size="32.5" text-anchor="end">0.2</text>
<text transform="translate(93.0,461.5) scale(1.04,1)" font-size="32.5" text-anchor="end">0.4</text>
<text transform="translate(93.0,362.1) scale(1.04,1)" font-size="32.5" text-anchor="end">0.6</text>
<text transform="translate(93.0,262.6) scale(1.04,1)" font-size="32.5" text-anchor="end">0.8</text>
<text transform="translate(93.0,163.2) scale(1.04,1)" font-size="32.5" text-anchor="end">1</text>
<text transform="translate(93.0,63.8) scale(1.04,1)" font-size="32.5" text-anchor="end">1.2</text>
<text transform="translate(545.6,772.6) scale(1.05,1)" font-size="32" text-anchor="middle">Normalized Voltage (Strain)</text>
<text transform="translate(27.5,351.0) rotate(-90) scale(1.05,1)" font-size="32" text-anchor="middle">Normalized Strain (Voltage)</text>
<rect x="114" y="16" width="509" height="156.7" fill="#fff" stroke="#1a1a1a" stroke-width="1.4"/>
<path d="M135.2,37.8 H218.7" stroke="#ff0000" stroke-width="13" stroke-dasharray="13.4 5.2" fill="none"/>
<path d="M135.2,75 H218.7" stroke="#0000ff" stroke-width="13" stroke-dasharray="13.4 5.2" fill="none"/>
<path d="M130.1,112 H218.7" stroke="#ff0000" stroke-width="8" fill="none"/>
<path d="M130.1,149 H218.7" stroke="#0000ff" stroke-width="8" fill="none"/>
<text transform="translate(226.5,49.2) scale(1.062,1)" font-size="27" text-anchor="start">Compensator loop, increasing</text>
<text transform="translate(226.5,86.2) scale(1.062,1)" font-size="27" text-anchor="start">Compensator loop, decreasing</text>
<text transform="translate(226.5,123.2) scale(1.062,1)" font-size="27" text-anchor="start">Hysteresis loop, increasing</text>
<text transform="translate(226.5,160.2) scale(1.062,1)" font-size="27" text-anchor="start">Hysteresis loop, decreasing</text>
<text transform="translate(327.5,353.1) scale(0.92,1)" font-size="38" text-anchor="start" font-weight="bold">A'</text>
<text transform="translate(508.5,547.4) scale(0.92,1)" font-size="38" text-anchor="start" font-weight="bold">A</text>
<text transform="translate(389.5,617.0) scale(0.92,1)" font-size="38" text-anchor="start" font-weight="bold">B</text>
<text transform="translate(791.8,343.3) scale(1.05,1)" font-size="37" text-anchor="start">Linear</text>
<text transform="translate(792.3,387.2) scale(1.05,1)" font-size="37" text-anchor="start">relationship</text>
</svg></body></html>
